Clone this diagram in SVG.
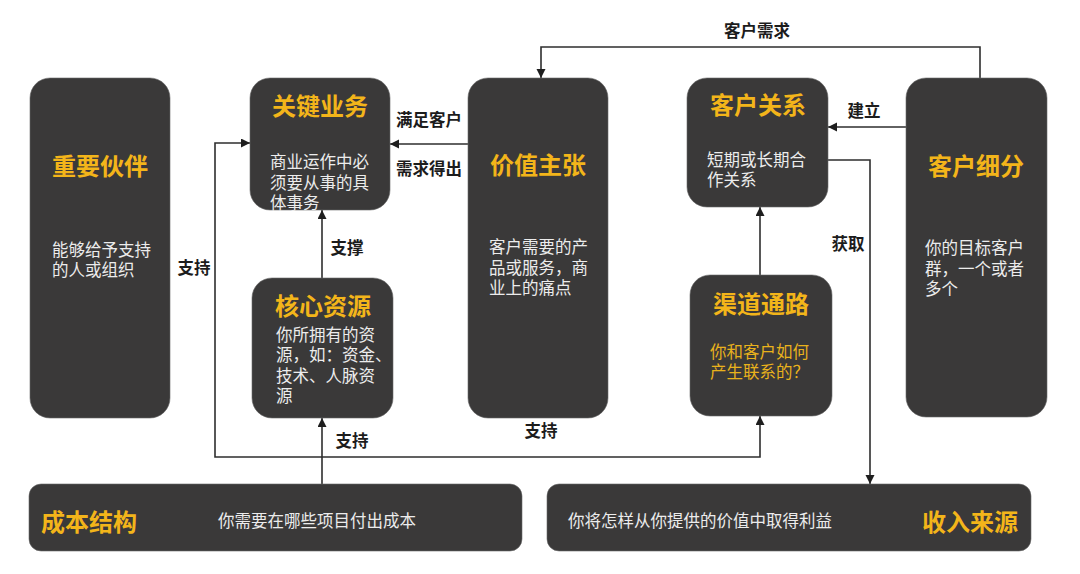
<svg xmlns="http://www.w3.org/2000/svg" width="1080" height="574" viewBox="0 0 1080 574">
<style>
.box{fill:#3a3939;stroke:#6a6a6a;stroke-width:0.6}
.title{font-family:"Noto Sans CJK SC","Noto Sans",sans-serif;font-size:24px;font-weight:bold;fill:#f3b51a}
.body{font-family:"Noto Sans CJK SC","Noto Sans",sans-serif;font-size:16.5px;fill:#ececec}
.gbody{font-family:"Noto Sans CJK SC","Noto Sans",sans-serif;font-size:16.5px;fill:#e9b21c}
.lbl{font-family:"Noto Sans CJK SC","Noto Sans",sans-serif;font-size:16.5px;font-weight:bold;fill:#1c1c1c}
.edge{fill:none;stroke:#2e2e2e;stroke-width:1.6}
</style>
<defs>
<marker id="arr" markerUnits="userSpaceOnUse" markerWidth="10" markerHeight="10" refX="9" refY="4.5" orient="auto-start-reverse">
<path d="M0,0 L9,4.5 L0,9 Z" fill="#1e1e1e"/>
</marker>
</defs>
<rect width="1080" height="574" fill="#ffffff"/>

<g id="connectors">
<path class="edge" d="M980,78 V47 H541 V78" marker-end="url(#arr)"/>
<path class="edge" d="M468,144 H390" marker-end="url(#arr)"/>
<path class="edge" d="M906,127 H828" marker-end="url(#arr)"/>
<path class="edge" d="M828,160 H870 V484" marker-end="url(#arr)"/>
<path class="edge" d="M760,275 V207" marker-end="url(#arr)"/>
<path class="edge" d="M322,278 V210" marker-end="url(#arr)"/>
<path class="edge" d="M322,484 V418" marker-end="url(#arr)"/>
<path class="edge" d="M250,143 H215 V457 H760 V416" marker-start="url(#arr)" marker-end="url(#arr)"/>
<text class="lbl" x="757" y="37" text-anchor="middle">客户需求</text>
<text class="lbl" x="429" y="126" text-anchor="middle">满足客户</text>
<text class="lbl" x="429" y="175" text-anchor="middle">需求得出</text>
<text class="lbl" x="864" y="117" text-anchor="middle">建立</text>
<text class="lbl" x="848" y="250" text-anchor="middle">获取</text>
<text class="lbl" x="347" y="254" text-anchor="middle">支撑</text>
<text class="lbl" x="194" y="274" text-anchor="middle">支持</text>
<text class="lbl" x="352" y="447" text-anchor="middle">支持</text>
<text class="lbl" x="541" y="437" text-anchor="middle">支持</text>
</g>

<g id="key-partners">
<rect class="box" x="30" y="78" width="140" height="340" rx="20"/>
<text class="title" x="100" y="175" text-anchor="middle">重要伙伴</text>
<text class="body" x="52" y="256">能够给予支持</text>
<text class="body" x="52" y="276">的人或组织</text>
</g>

<g id="key-activities">
<rect class="box" x="250" y="78" width="140" height="132" rx="20"/>
<text class="title" x="320" y="115" text-anchor="middle">关键业务</text>
<text class="body" x="270" y="168">商业运作中必</text>
<text class="body" x="270" y="189">须要从事的具</text>
<text class="body" x="270" y="209">体事务</text>
</g>

<g id="key-resources">
<rect class="box" x="252" y="278" width="141" height="140" rx="20"/>
<text class="title" x="323" y="315" text-anchor="middle">核心资源</text>
<text class="body" x="276" y="341">你所拥有的资</text>
<text class="body" x="276" y="361">源，如：资金、</text>
<text class="body" x="276" y="382">技术、人脉资</text>
<text class="body" x="276" y="402">源</text>
</g>

<g id="value-proposition">
<rect class="box" x="468" y="78" width="140" height="340" rx="20"/>
<text class="title" x="538" y="174" text-anchor="middle">价值主张</text>
<text class="body" x="489" y="253">客户需要的产</text>
<text class="body" x="489" y="274">品或服务，商</text>
<text class="body" x="489" y="294">业上的痛点</text>
</g>

<g id="customer-relationships">
<rect class="box" x="687" y="78" width="141" height="129" rx="20"/>
<text class="title" x="758" y="114" text-anchor="middle">客户关系</text>
<text class="body" x="707" y="166">短期或长期合</text>
<text class="body" x="707" y="186">作关系</text>
</g>

<g id="channels">
<rect class="box" x="690" y="275" width="142" height="141" rx="20"/>
<text class="title" x="761" y="313" text-anchor="middle">渠道通路</text>
<text class="gbody" x="710" y="358">你和客户如何</text>
<text class="gbody" x="710" y="378">产生联系的？</text>
</g>

<g id="customer-segments">
<rect class="box" x="906" y="78" width="141" height="339" rx="20"/>
<text class="title" x="976" y="175" text-anchor="middle">客户细分</text>
<text class="body" x="925" y="254">你的目标客户</text>
<text class="body" x="925" y="275">群，一个或者</text>
<text class="body" x="925" y="295">多个</text>
</g>

<g id="cost-structure">
<rect class="box" x="29" y="484" width="493" height="67" rx="12"/>
<text class="title" x="41" y="531">成本结构</text>
<text class="body" x="218" y="527">你需要在哪些项目付出成本</text>
</g>

<g id="revenue-streams">
<rect class="box" x="547" y="484" width="484" height="67" rx="12"/>
<text class="body" x="568" y="527">你将怎样从你提供的价值中取得利益</text>
<text class="title" x="1018" y="531" text-anchor="end">收入来源</text>
</g>
</svg>
